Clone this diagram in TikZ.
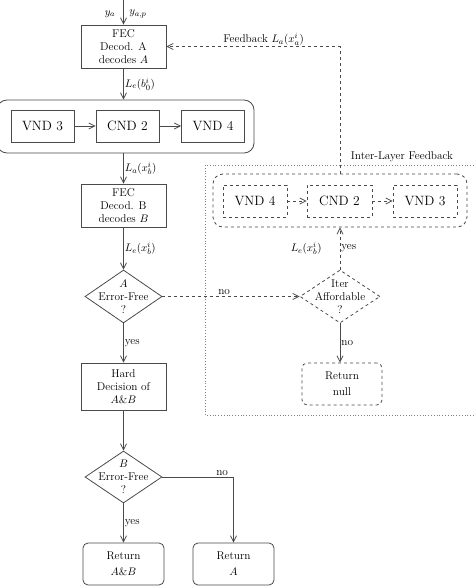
\documentclass[tikz,border=0pt]{standalone}
\usetikzlibrary{arrows.meta,shapes.geometric,positioning}
\definecolor{ln}{HTML}{4a4a4a}
\definecolor{dt}{HTML}{808080}
\begin{document}
\begin{tikzpicture}[x=1pt,y=-1pt,
  font=\fontsize{11.3}{13}\selectfont,
  every node/.style={text=black},
  arr/.style={draw=ln,line width=0.8pt,-{Straight Barb[length=6pt,width=6pt]}},
  darr/.style={arr,dashed},
  blk/.style={draw=ln,line width=0.8pt,rectangle,inner sep=0pt,align=center,minimum width=85pt,minimum height=43pt},
  vnd/.style={draw=ln,line width=0.8pt,rectangle,inner sep=0pt,minimum width=63pt,minimum height=32pt,font=\fontsize{13.5}{15}\selectfont},
  dvnd/.style={vnd,dashed},
  grp/.style={draw=ln,line width=0.8pt,rounded corners=10pt,inner sep=0pt},
  dia/.style={draw=ln,line width=0.8pt,diamond,inner sep=0pt,minimum width=77pt,minimum height=53pt},
  ret/.style={draw=ln,line width=0.8pt,rounded corners=5pt,inner sep=0pt,align=center,minimum width=81pt,minimum height=42pt,font=\fontsize{11.3}{16}\selectfont},
  lbl/.style={inner sep=1pt}
]
\useasboundingbox (0,0) rectangle (474,586);
% outer dotted region
\draw[dt,line width=0.8pt,dotted] (205,165) rectangle (480,415);
\node[lbl] (inter) at (402,157) {Inter-Layer Feedback};

% main column
\coordinate (in) at (123.5,0);
\node[blk] (fecA) at (123.5,46.5) {FEC\\Decod. A\\decodes $A$};
\node[grp,minimum width=257pt,minimum height=53pt] (big) at (125.5,126.5) {};
\node[vnd] (vnd3) at (42.5,126) {VND 3};
\node[vnd] (cnd2) at (127.5,126) {CND 2};
\node[vnd] (vnd4) at (213,126) {VND 4};
\node[blk] (fecB) at (123.5,205.5) {FEC\\Decod. B\\decodes $B$};
\node[dia] (dA) at (123.5,296.5) {};
\node[align=center] (dAt) at (dA) {$A$\\Error-Free\\?};
\node[blk,minimum height=47pt] (hard) at (123.5,386.5) {Hard\\Decision of\\$A\&B$};
\node[dia,minimum height=52pt] (dB) at (123.5,477) {};
\node[align=center] (dBt) at (dB) {$B$\\Error-Free\\?};
\node[ret] (retAB) at (123.5,564) {Return\\$A\&B$};
\node[ret] (retA) at (233.5,564) {Return\\$A$};

% right (inter-layer) part
\node[grp,dashed,minimum width=254pt,minimum height=53pt] (dbig) at (340,200.5) {};
\node[dvnd,minimum width=64pt] (vnd4d) at (255,201) {VND 4};
\node[dvnd,minimum width=65pt] (cnd2d) at (339.5,201) {CND 2};
\node[dvnd,minimum width=64pt] (vnd3d) at (425,201) {VND 3};
\node[dia,dashed,minimum width=80pt] (dI) at (340,296.5) {};
\node[align=center] (dIt) at (dI) {Iter\\Affordable\\?};
\node[ret,dashed,minimum width=80pt] (retN) at (342,384) {Return\\null};

% connectors
\draw[arr] (in) -- (fecA.north);
\node[lbl] (ya) at (110,14) {$y_a$};
\node[lbl] (yap) at (138,14) {$y_{a,p}$};
\draw[arr] (fecA.south) -- (fecA.south |- big.north) node[midway,right,lbl] {$L_e(b_0^i)$};
\draw[arr] (vnd3) -- (cnd2);
\draw[arr] (cnd2) -- (vnd4);
\draw[arr] (fecB.north |- big.south) -- (fecB.north) node[midway,right,lbl] {$L_a(x_b^i)$};
\draw[arr] (fecB.south) -- (dA.north) node[midway,right,lbl] {$L_e(x_b^i)$};
\draw[darr] (dA.east) -- (dI.west) node[pos=0.45,above,lbl] {no};
\draw[arr] (dA.south) -- (hard.north) node[midway,right,lbl] {yes};
\draw[arr] (hard.south) -- (dB.north);
\draw[arr] (dB.south) -- (retAB.north) node[midway,right,lbl] {yes};
\draw[arr] (dB.east) -| (retA.north) node[pos=0.42,above,lbl] {no};
\draw[darr] (vnd4d) -- (cnd2d);
\draw[darr] (cnd2d) -- (vnd3d);
\draw[darr] (dI.north) -- (dI.north |- dbig.south) node[midway,right,lbl] {yes} node[midway,left,lbl,xshift=-17pt] {$L_e(x_b^i)$};
\draw[arr] (dI.south) -- (dI.south |- retN.north) node[midway,right,lbl] {no};
\draw[darr] (dbig.north) |- (fecA.east) node[pos=0.72,above,lbl] {Feedback $L_a(x_a^i)$};
\end{tikzpicture}
\end{document}
